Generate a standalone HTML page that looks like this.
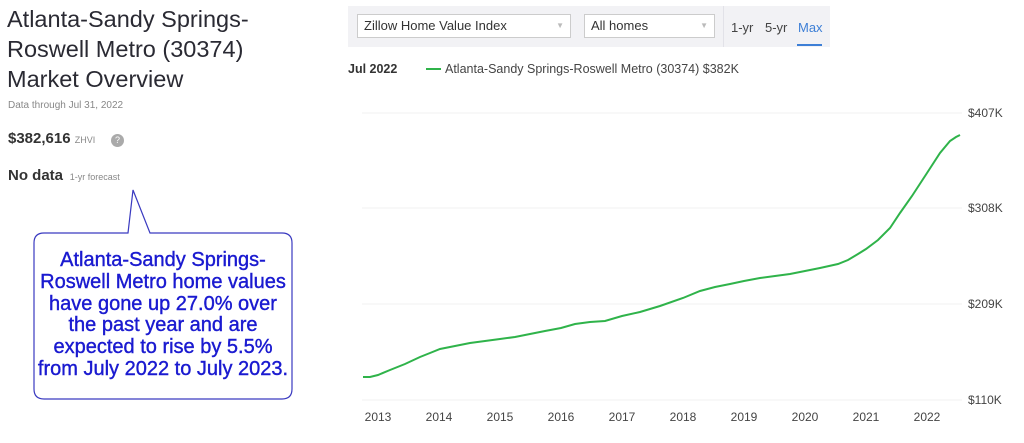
<!DOCTYPE html>
<html><head><meta charset="utf-8"><style>
body{margin:0;width:1024px;height:443px;background:#fff;font-family:"Liberation Sans",sans-serif;position:relative;overflow:hidden;color:#2a2a33}
.a{position:absolute;white-space:nowrap}
</style></head><body>
<div class="a" style="left:7px;top:4px;font-size:23.5px;line-height:30px;color:#2a2a33">Atlanta-Sandy Springs-<br>Roswell Metro (30374)<br>Market Overview</div>
<div class="a" style="left:8px;top:100px;font-size:10px;color:#888">Data through Jul 31, 2022</div>
<div class="a" style="left:8px;top:130px;font-size:15px;font-weight:bold;color:#333">$382,616 <span style="font-size:9px;font-weight:normal;color:#888">ZHVI</span></div>
<div class="a" style="left:111px;top:134px;width:13px;height:13px;border-radius:50%;background:#aaa;color:#fff;font-size:9px;text-align:center;line-height:13px">?</div>
<div class="a" style="left:8px;top:167px;font-size:15px;font-weight:bold;color:#333">No data <span style="font-size:9px;font-weight:normal;color:#888">&nbsp;1-yr forecast</span></div>
<svg class="a" style="left:0;top:0" width="340" height="443">
<path d="M44,233 H128 L133,190 L150,233 H282 Q292,233 292,243 V389 Q292,399 282,399 H44 Q34,399 34,389 V243 Q34,233 44,233Z" fill="#fff" stroke="#3a3ac0" stroke-width="1.2"/>
</svg>
<div class="a" style="left:30px;top:250px;width:266px;text-align:center;font-size:20px;line-height:21.8px;color:#1a1ad0;-webkit-text-stroke:0.4px #1a1ad0">Atlanta-Sandy Springs-<br>Roswell Metro home values<br>have gone up 27.0% over<br>the past year and are<br>expected to rise by 5.5%<br>from July 2022 to July 2023.</div>
<div class="a" style="left:348px;top:6px;width:482px;height:41px;background:#f2f2f5"></div>
<div class="a" style="left:357px;top:14px;width:214px;height:24px;background:#fff;border:1px solid #ccc;box-sizing:border-box;font-size:13px;line-height:22px;padding-left:6px;color:#333">Zillow Home Value Index<span style="position:absolute;right:6px;color:#bbb;font-size:8px">▼</span></div>
<div class="a" style="left:584px;top:14px;width:131px;height:24px;background:#fff;border:1px solid #ccc;box-sizing:border-box;font-size:13px;line-height:22px;padding-left:6px;color:#333">All homes<span style="position:absolute;right:6px;color:#bbb;font-size:8px">▼</span></div>
<div class="a" style="left:723px;top:6px;width:1px;height:41px;background:#e2e2e8"></div>
<div class="a" style="left:731px;top:20px;font-size:13px;color:#444">1-yr</div>
<div class="a" style="left:765px;top:20px;font-size:13px;color:#444">5-yr</div>
<div class="a" style="left:798px;top:20px;font-size:13px;color:#3d7fd6">Max</div>
<div class="a" style="left:797px;top:44px;width:25px;height:2px;background:#3d7fd6"></div>
<div class="a" style="left:348px;top:62px;font-size:12.5px;font-weight:bold;color:#333">Jul 2022</div>
<div class="a" style="left:426px;top:68px;width:15px;height:2px;background:#2fb34a"></div>
<div class="a" style="left:445px;top:62px;font-size:12.5px;color:#444">Atlanta-Sandy Springs-Roswell Metro (30374) $382K</div>
<svg class="a" style="left:0;top:0" width="1024" height="443">
<g stroke="#f0f0f0" stroke-width="1"><line x1="362" x2="962" y1="113" y2="113"/><line x1="362" x2="962" y1="208" y2="208"/><line x1="362" x2="962" y1="304" y2="304"/><line x1="362" x2="962" y1="400" y2="400"/></g>
<g font-size="12" fill="#444" font-family="Liberation Sans,sans-serif">
<text x="968" y="117">$407K</text><text x="968" y="212">$308K</text><text x="968" y="308">$209K</text><text x="968" y="404">$110K</text>
<g text-anchor="middle"><text x="378" y="421">2013</text><text x="439" y="421">2014</text><text x="500" y="421">2015</text><text x="561" y="421">2016</text><text x="622" y="421">2017</text><text x="683" y="421">2018</text><text x="744" y="421">2019</text><text x="805" y="421">2020</text><text x="866" y="421">2021</text><text x="927" y="421">2022</text></g></g>
<path d="M363,377 L370,377 L378,375 L390,370 L405,364 L420,357 L430,353 L440,349 L455,346 L470,343 L485,341 L500,339 L515,337 L530,334 L545,331 L561,328 L575,324 L590,322 L605,321 L622,316 L640,312 L660,306 L683,298 L700,291 L715,287 L730,284 L744,281 L760,278 L775,276 L790,274 L805,271 L820,268 L838,264 L848,260 L858,254 L866,249 L878,240 L890,228 L900,213 L912,196 L927,173 L940,153 L950,141 L956,137 L960,135" fill="none" stroke="#2fb34a" stroke-width="2"/>
</svg>
</body></html>
